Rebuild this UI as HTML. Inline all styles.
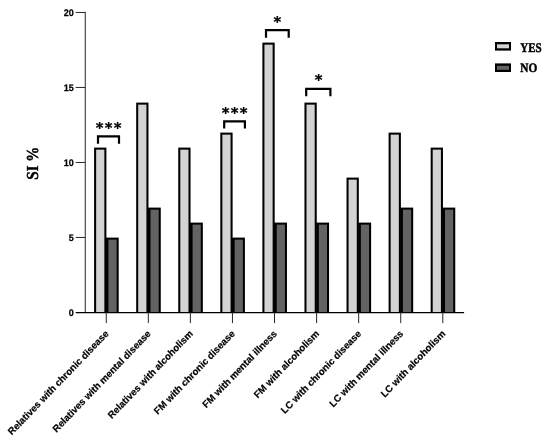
<!DOCTYPE html><html><head><meta charset="utf-8"><title>SI %</title><style>html,body{margin:0;padding:0;background:#fff}svg{display:block}text{text-rendering:geometricPrecision}</style></head><body>
<svg width="550" height="446" viewBox="0 0 550 446">
<rect width="550" height="446" fill="#fff"/>
<rect x="94.10" y="147.60" width="12.30" height="165.00" fill="#000"/>
<rect x="105.80" y="237.60" width="12.90" height="75.00" fill="#000"/>
<rect x="96.15" y="149.65" width="8.20" height="162.95" fill="#d3d3d3"/>
<rect x="108.45" y="239.65" width="8.20" height="72.95" fill="#636363"/>
<rect x="136.17" y="102.60" width="12.30" height="210.00" fill="#000"/>
<rect x="147.87" y="207.60" width="12.90" height="105.00" fill="#000"/>
<rect x="138.22" y="104.65" width="8.20" height="207.95" fill="#d3d3d3"/>
<rect x="150.52" y="209.65" width="8.20" height="102.95" fill="#636363"/>
<rect x="178.24" y="147.60" width="12.30" height="165.00" fill="#000"/>
<rect x="189.94" y="222.60" width="12.90" height="90.00" fill="#000"/>
<rect x="180.29" y="149.65" width="8.20" height="162.95" fill="#d3d3d3"/>
<rect x="192.59" y="224.65" width="8.20" height="87.95" fill="#636363"/>
<rect x="220.31" y="132.60" width="12.30" height="180.00" fill="#000"/>
<rect x="232.01" y="237.60" width="12.90" height="75.00" fill="#000"/>
<rect x="222.36" y="134.65" width="8.20" height="177.95" fill="#d3d3d3"/>
<rect x="234.66" y="239.65" width="8.20" height="72.95" fill="#636363"/>
<rect x="262.38" y="42.60" width="12.30" height="270.00" fill="#000"/>
<rect x="274.08" y="222.60" width="12.90" height="90.00" fill="#000"/>
<rect x="264.43" y="44.65" width="8.20" height="267.95" fill="#d3d3d3"/>
<rect x="276.73" y="224.65" width="8.20" height="87.95" fill="#636363"/>
<rect x="304.45" y="102.60" width="12.30" height="210.00" fill="#000"/>
<rect x="316.15" y="222.60" width="12.90" height="90.00" fill="#000"/>
<rect x="306.50" y="104.65" width="8.20" height="207.95" fill="#d3d3d3"/>
<rect x="318.80" y="224.65" width="8.20" height="87.95" fill="#636363"/>
<rect x="346.52" y="177.60" width="12.30" height="135.00" fill="#000"/>
<rect x="358.22" y="222.60" width="12.90" height="90.00" fill="#000"/>
<rect x="348.57" y="179.65" width="8.20" height="132.95" fill="#d3d3d3"/>
<rect x="360.87" y="224.65" width="8.20" height="87.95" fill="#636363"/>
<rect x="388.59" y="132.60" width="12.30" height="180.00" fill="#000"/>
<rect x="400.29" y="207.60" width="12.90" height="105.00" fill="#000"/>
<rect x="390.64" y="134.65" width="8.20" height="177.95" fill="#d3d3d3"/>
<rect x="402.94" y="209.65" width="8.20" height="102.95" fill="#636363"/>
<rect x="430.66" y="147.60" width="12.30" height="165.00" fill="#000"/>
<rect x="442.36" y="207.60" width="12.90" height="105.00" fill="#000"/>
<rect x="432.71" y="149.65" width="8.20" height="162.95" fill="#d3d3d3"/>
<rect x="445.01" y="209.65" width="8.20" height="102.95" fill="#636363"/>
<g stroke="#262626" stroke-width="1" fill="none">
<path d="M85.25 11.9 V312.6"/>
<path d="M75.7 312.6 H464.1" stroke-width="1.3" stroke="#000"/>
<path d="M75.7 237.45 H85.25"/>
<path d="M75.7 162.45 H85.25"/>
<path d="M75.7 87.45 H85.25"/>
<path d="M75.7 12.45 H85.25"/>
<path d="M106.25 312.6 V323.1"/>
<path d="M148.32 312.6 V323.1"/>
<path d="M190.39 312.6 V323.1"/>
<path d="M232.46 312.6 V323.1"/>
<path d="M274.53 312.6 V323.1"/>
<path d="M316.60 312.6 V323.1"/>
<path d="M358.67 312.6 V323.1"/>
<path d="M400.74 312.6 V323.1"/>
<path d="M442.81 312.6 V323.1"/>
</g>
<g font-family="'Liberation Sans',Arial,sans-serif" font-weight="bold" font-size="9.5" text-anchor="end" fill="#000" stroke="#000" stroke-width="0.25">
<text transform="translate(73.9,316.40) scale(0.95,1.0)">0</text>
<text transform="translate(73.9,241.40) scale(0.95,1.0)">5</text>
<text transform="translate(73.9,166.40) scale(0.95,1.0)">10</text>
<text transform="translate(73.9,91.40) scale(0.95,1.0)">15</text>
<text transform="translate(73.9,16.40) scale(0.95,1.0)">20</text>
</g>
<g font-family="'Liberation Sans',Arial,sans-serif" font-weight="bold" font-size="9.88" text-anchor="end" fill="#000" stroke="#000" stroke-width="0.2">
<text transform="translate(109.30,334.30) scale(0.962,1) rotate(-45)">Relatives with chronic disease</text>
<text transform="translate(151.37,334.30) scale(0.962,1) rotate(-45)">Relatives with mental disease</text>
<text transform="translate(193.44,334.30) scale(0.962,1) rotate(-45)">Relatives with alcoholism</text>
<text transform="translate(235.51,334.30) scale(0.962,1) rotate(-45)">FM with chronic disease</text>
<text transform="translate(277.58,334.30) scale(0.962,1) rotate(-45)">FM with mental illness</text>
<text transform="translate(319.65,334.30) scale(0.962,1) rotate(-45)">FM with alcoholism</text>
<text transform="translate(361.72,334.30) scale(0.962,1) rotate(-45)">LC with chronic disease</text>
<text transform="translate(403.79,334.30) scale(0.962,1) rotate(-45)">LC with mental illness</text>
<text transform="translate(445.86,334.30) scale(0.962,1) rotate(-45)">LC with alcoholism</text>
</g>
<text transform="translate(38.2,163.2) rotate(-90)" text-anchor="middle" font-family="'Liberation Serif',serif" font-weight="bold" font-size="16.8" stroke="#000" stroke-width="0.4" textLength="33" lengthAdjust="spacingAndGlyphs">SI %</text>
<rect x="495" y="42" width="16" height="8.6" fill="#000"/><rect x="497" y="44.3" width="12" height="4.0" fill="#d3d3d3"/>
<rect x="495" y="63.4" width="16" height="8.6" fill="#000"/><rect x="497" y="65.8" width="12" height="4.0" fill="#636363"/>
<text x="520.3" y="51.7" font-family="'Liberation Serif',serif" font-weight="bold" font-size="13.2" stroke="#000" stroke-width="0.45" textLength="21.4" lengthAdjust="spacingAndGlyphs">YES</text>
<text x="520.3" y="72.45" font-family="'Liberation Serif',serif" font-weight="bold" font-size="12.9" stroke="#000" stroke-width="0.45" textLength="17" lengthAdjust="spacingAndGlyphs">NO</text>
<path d="M98.0 143.8 V136.4 H119.0 V143.8" fill="none" stroke="#000" stroke-width="2.2" stroke-linejoin="miter"/>
<text x="109.15" y="133.25" text-anchor="middle" font-family="'DejaVu Sans',sans-serif" font-weight="bold" font-size="14.7" stroke="#000" stroke-width="0.3" letter-spacing="1.3">***</text>
<path d="M224.2 128.6 V121.3 H244.9 V128.6" fill="none" stroke="#000" stroke-width="2.2" stroke-linejoin="miter"/>
<text x="235.25" y="118.10" text-anchor="middle" font-family="'DejaVu Sans',sans-serif" font-weight="bold" font-size="14.7" stroke="#000" stroke-width="0.3" letter-spacing="1.3">***</text>
<path d="M266.0 37.7 V30.15 H288.7 V37.7" fill="none" stroke="#000" stroke-width="2.2" stroke-linejoin="miter"/>
<text x="277.4" y="27.30" text-anchor="middle" font-family="'DejaVu Sans',sans-serif" font-weight="bold" font-size="14.7" stroke="#000" stroke-width="0.3">*</text>
<path d="M306.2 96.25 V88.85 H330.4 V96.25" fill="none" stroke="#000" stroke-width="2.2" stroke-linejoin="miter"/>
<text x="318.5" y="85.45" text-anchor="middle" font-family="'DejaVu Sans',sans-serif" font-weight="bold" font-size="14.7" stroke="#000" stroke-width="0.3">*</text>
</svg></body></html>
